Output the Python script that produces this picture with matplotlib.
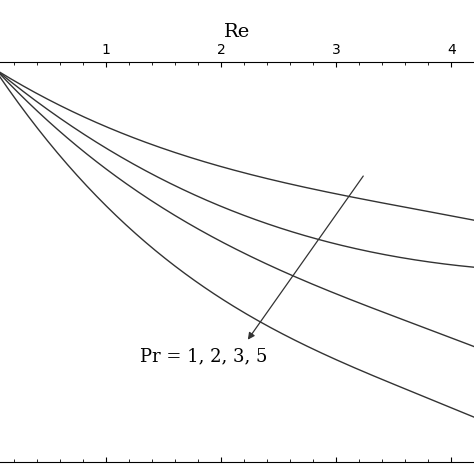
import matplotlib
matplotlib.use("Agg")
import matplotlib.pyplot as plt
import numpy as np
from matplotlib.ticker import MultipleLocator

re_pts = [0.05, 0.94, 2.01, 3.0, 4.28]
curves = {
    "1": [0.02, 0.158, 0.258, 0.333, 0.40],
    "2": [0.02, 0.208, 0.358, 0.458, 0.515],
    "3": [0.02, 0.258, 0.445, 0.583, 0.72],
    "5": [0.02, 0.358, 0.57, 0.758, 0.895],
}
label = "Pr = 1, 2, 3, 5"

fig = plt.figure(figsize=(4.74, 4.74), dpi=100)
ax = fig.add_axes([-0.02, 0.025, 1.04, 0.845])
for k, v in curves.items():
    xs = np.linspace(re_pts[0], re_pts[-1], 200)
    ys = np.interp(xs, re_pts, v)
    # smooth via polynomial in sqrt-like shape
    p = np.polyfit(re_pts, v, 3)
    ax.plot(xs, np.polyval(p, xs), color="#333333", lw=1.0)
ax.set_xlim(0.0, 4.28)
ax.set_ylim(1.0, 0.0)
ax.xaxis.tick_top()
ax.xaxis.set_label_position("top")
ax.set_xticks([1, 2, 3, 4])
ax.xaxis.set_minor_locator(MultipleLocator(0.2))
ax.tick_params(axis="x", which="both", top=True, bottom=True, direction="in", labelsize=10)
ax.set_yticks([])
ax.spines["left"].set_visible(False)
ax.spines["right"].set_visible(False)
ax.set_xlabel("Re", fontsize=14, family="DejaVu Serif")
ax.annotate("", xy=(2.22, 0.7), xytext=(3.25, 0.28),
            arrowprops=dict(arrowstyle="-|>", color="#333333", lw=0.9))
ax.text(1.85, 0.735, label, fontsize=13, family="DejaVu Serif", ha="center", va="center")
fig.savefig("out.png", dpi=100)
